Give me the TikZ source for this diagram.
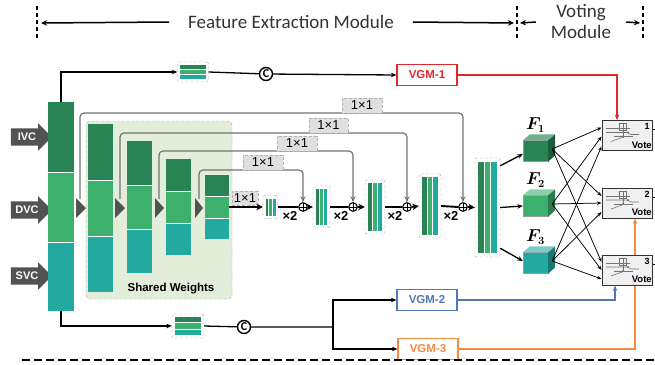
\documentclass[tikz,border=0pt]{standalone}
\usepackage{fontspec}
\setmainfont{Carlito}
\newfontfamily\arialfont{Liberation Sans}
\usepackage{amsmath}
\usetikzlibrary{positioning,arrows.meta,shapes.arrows}

\definecolor{dgreen}{RGB}{40,132,84}
\definecolor{mgreen}{RGB}{62,176,110}
\definecolor{tealc}{RGB}{34,170,160}
\definecolor{swbg}{RGB}{226,238,218}
\definecolor{arrowgray}{RGB}{82,82,82}
\definecolor{vgmred}{RGB}{222,40,44}
\definecolor{vgmblue}{RGB}{80,120,185}
\definecolor{vgmorange}{RGB}{240,140,70}

% three vertical stripes inside a feature block
\newcommand\vstripes[4]{%
  \pgfmathsetmacro\sw{(#3-#1)/3}
  \fill[dgreen] (#1,#2) rectangle ({#1+\sw-0.6},#4);
  \fill[mgreen] ({#1+\sw+0.3},#2) rectangle ({#1+2*\sw-0.3},#4);
  \fill[tealc] ({#1+2*\sw+0.6},#2) rectangle (#3,#4);}
% three horizontal stripes inside a pooled box
\newcommand\hstripes[4]{%
  \pgfmathsetmacro\sh{(#4-#2)/3}
  \fill[dgreen] (#1,#2) rectangle (#3,{#2+\sh-0.6});
  \fill[mgreen] (#1,{#2+\sh+0.3}) rectangle (#3,{#2+2*\sh-0.3});
  \fill[tealc] (#1,{#2+2*\sh+0.6}) rectangle (#3,#4);}
% little circuit sketch inside a vote box
\newcommand\voteicon[2]{%
  \begin{scope}[shift={(#1.center)}, black!55, line width=.6pt]
    \draw (-8,-12) rectangle (-1,-5);
    \draw (-21,-7) -- (3,-7);
    \draw (-21,-3) -- (0,-3) -- (4,-1) -- (12,-1);
    \draw (-13,1) -- (6,1);
    \draw (-4,-12) -- (-4,2);
    \draw (-16,6) -- (-5,2);
    \fill (-4,1) circle (1.2) (1,-3) circle (1.2);
    \node[votenum] (#1num) at (20,-9) {#2};
    \node[votetxt, anchor=east] (#1txt) at (25,9.5) {Vote};
  \end{scope}}

\tikzset{
  headtxt/.style={font=\fontsize{19}{21}\selectfont, text=black!80, inner sep=1pt},
  headarr/.style={line width=1.5pt, -{Stealth[length=6pt,width=5.5pt]}},
  tick/.style={line width=1.5pt, dash pattern=on 4pt off 3pt},
  inarrow/.style={single arrow, fill=arrowgray, text=white,
    font=\arialfont\bfseries\fontsize{11}{12}\selectfont,
    single arrow head extend=5pt, minimum height=41pt, inner xsep=1pt, inner ysep=4.5pt},
  hold/.style={inner sep=0pt, minimum width=#1},
  featbox/.style={draw=gray!70, densely dashed, fill=white, rounded corners=2pt, inner sep=0pt},
  lab/.style={draw=gray!60, densely dashed, fill=gray!25, inner sep=1pt,
    minimum width=40pt, minimum height=15pt, font=\arialfont\fontsize{13}{14}\selectfont},
  skip/.style={draw=black!55, line width=1.2pt, rounded corners=4pt,
    -{Stealth[length=6pt,width=5pt]}},
  flow/.style={line width=1.9pt, -{Stealth[length=6.5pt,width=6.5pt]}},
  flowl/.style={line width=1.9pt},
  oplus/.style={circle, draw, line width=.9pt, fill=white, minimum size=8.5pt, inner sep=0pt,
    path picture={\draw[line width=.9pt] (path picture bounding box.north) -- (path picture bounding box.south)
      (path picture bounding box.west) -- (path picture bounding box.east);}},
  times/.style={font=\arialfont\bfseries\fontsize{13}{14}\selectfont, inner sep=0pt},
  cat/.style={circle, draw, line width=1.4pt, fill=white, minimum size=13pt, inner sep=0pt,
    font=\bfseries\fontsize{12}{12}\selectfont},
  conn/.style={line width=1.3pt, -{Stealth[length=5.5pt,width=4.5pt]}},
  vgm/.style={draw=#1, line width=1.2pt, fill=white, text=#1, minimum width=60pt,
    minimum height=21pt, font=\arialfont\bfseries\fontsize{11.5}{12}\selectfont},
  cube/.style={fill=#1, draw=black!40, line width=.3pt, minimum width=25pt,
    minimum height=21pt, inner sep=0pt},
  flabel/.style={font=\fontsize{16}{18}\selectfont\boldmath, inner sep=0pt},
  vote/.style={draw=black!80, line width=1pt, fill=gray!12, minimum width=50pt,
    minimum height=30pt, inner sep=0pt},
  votenum/.style={font=\arialfont\bfseries\fontsize{9}{10}\selectfont, inner sep=0pt, text=black},
  votetxt/.style={font=\arialfont\bfseries\fontsize{9.5}{10}\selectfont, inner sep=0pt, text=black},
  fanout/.style={line width=.75pt, -{Stealth[length=4.5pt,width=3.5pt]}},
  colline/.style={draw=#1, line width=1.2pt, -{Stealth[length=5.5pt,width=4.5pt]}}
}

\begin{document}
\begin{tikzpicture}[x=1pt, y=-1pt]
  \useasboundingbox (0,0) rectangle (655,364);

  % header
  \coordinate (tkA) at (37,23);
  \coordinate (tkB) at (517,23);
  \coordinate (tkC) at (643,23);
  \draw[tick] (37,6) -- (37,38) (517,6) -- (517,38) (643,6) -- (643,38);
  \node[headtxt] (fem) at (291,22) {Feature Extraction Module};
  \node[headtxt, align=center] (vm) at (581,22) {Voting\\Module};
  \draw[headarr] ([xshift=-18pt]fem.west) -- ([xshift=4pt]tkA);
  \draw[headarr] ([xshift=18pt]fem.east) -- ([xshift=-3pt]tkB);
  \draw[headarr] ([xshift=-14pt]vm.west) -- ([xshift=3pt]tkB);
  \draw[headarr] ([xshift=14pt]vm.east) -- ([xshift=-3pt]tkC);

  % inputs
  \node[inarrow] (ivc) at (27,137) {IVC};
  \node[inarrow] (dvc) at (27,210) {DVC};
  \node[inarrow] (svc) at (27,276) {SVC};

  % input stack
  \fill[dgreen] (48,102) rectangle (74,172);
  \fill[mgreen] (48,172) rectangle (74,242);
  \fill[tealc] (48,242) rectangle (74,311);
  \draw[white, line width=.8pt] (48,172) -- (74,172) (48,242) -- (74,242);
  \node[hold=26pt, minimum height=209pt] (incol) at (61,206.5) {};

  % shared weights
  \draw[draw=gray!70, densely dashed, fill=swbg, rounded corners=4pt] (86,121) rectangle (232,299);
  \node[font=\arialfont\bfseries\fontsize{11.5}{12}\selectfont] (swt) at (171,289) {Shared Weights};

  \fill[dgreen] (88,124) rectangle (113,180);
  \fill[mgreen] (88,180) rectangle (113,236);
  \fill[tealc] (88,236) rectangle (113,292);
  \fill[dgreen] (127,141) rectangle (152,185);
  \fill[mgreen] (127,185) rectangle (152,229);
  \fill[tealc] (127,229) rectangle (152,273);
  \fill[dgreen] (166,159) rectangle (191,191);
  \fill[mgreen] (166,191) rectangle (191,223);
  \fill[tealc] (166,223) rectangle (191,255);
  \fill[dgreen] (205,175) rectangle (229,196);
  \fill[mgreen] (205,196) rectangle (229,218);
  \fill[tealc] (205,218) rectangle (229,239);
  \draw[white, line width=.8pt] (88,180) -- (113,180) (88,236) -- (113,236)
    (127,185) -- (152,185) (127,229) -- (152,229)
    (166,191) -- (191,191) (166,223) -- (191,223)
    (205,196) -- (229,196) (205,218) -- (229,218);
  \node[hold=24pt, minimum height=64pt] (col4) at (217,207) {};

  \fill[arrowgray] (76,198) -- (86,208) -- (76,218) -- cycle;
  \fill[arrowgray] (115,198) -- (125,208) -- (115,218) -- cycle;
  \fill[arrowgray] (155,198) -- (164,208) -- (155,218) -- cycle;
  \fill[arrowgray] (195,198) -- (203,208) -- (195,218) -- cycle;
  \coordinate (s0) at (80,199);
  \coordinate (s1) at (120,199);
  \coordinate (s2) at (159,199);
  \coordinate (s3) at (199,199);

  % pyramid path
  \node[featbox, minimum width=15pt, minimum height=23pt] (b1) at (270.5,207) {};
  \node[featbox, minimum width=17pt, minimum height=42pt] (b2) at (321.5,207) {};
  \node[featbox, minimum width=20pt, minimum height=54pt] (b3) at (375,207) {};
  \node[featbox, minimum width=22pt, minimum height=64pt] (b4) at (430,206) {};
  \node[featbox, minimum width=25pt, minimum height=99pt] (b5) at (487.5,207.5) {};
  \vstripes{265.5}{198.5}{275.5}{215.5}
  \vstripes{316}{189}{327}{225}
  \vstripes{368}{183}{382}{231}
  \vstripes{422}{177}{438}{235}
  \vstripes{478}{162}{497}{253}

  \node[oplus] (p1) at (303,207) {};
  \node[oplus] (p2) at (353,207) {};
  \node[oplus] (p3) at (407,207) {};
  \node[oplus] (p4) at (463,207) {};

  \node[lab, anchor=south] (k1) at (362,113) {1×1};
  \node[lab, anchor=south, minimum width=39pt] (k2) at (328.5,133) {1×1};
  \node[lab, anchor=south] (k3) at (297,151) {1×1};
  \node[lab, anchor=south] (k4) at (263,170) {1×1};
  \node[lab, anchor=south, minimum width=26pt, minimum height=14pt] (k0) at (245,205) {1×1};

  \draw[skip] (s0) |- (k1.south) -| (p4.north);
  \draw[skip] (s1) |- (k2.south) -| (p3.north);
  \draw[skip] (s2) |- (k3.south) -| (p2.north);
  \draw[skip] (s3) |- (k4.south) -| (p1.north);
  \node[lab, anchor=south] at (k1.south) {1×1};
  \node[lab, anchor=south, minimum width=39pt] at (k2.south) {1×1};
  \node[lab, anchor=south] at (k3.south) {1×1};
  \node[lab, anchor=south] at (k4.south) {1×1};

  \draw[flow] (col4.east) -- (b1.west);
  \draw[flowl] (b1.east) -- (p1.west);
  \draw[flow] (p1.east) -- (b2.west);
  \draw[flowl] (b2.east) -- (p2.west);
  \draw[flow] (p2.east) -- (b3.west);
  \draw[flowl] (b3.east) -- (p3.west);
  \draw[flow] (p3.east) -- (b4.west);
  \draw[flowl] (b4.east) -- (p4.west);
  \draw[flow] (p4.east) -- (b5.west);
  \node[oplus] at (p1) {};
  \node[oplus] at (p2) {};
  \node[oplus] at (p3) {};
  \node[oplus] at (p4) {};
  \node[times] (x1) at (290,216) {×2};
  \node[times] (x2) at (341,216) {×2};
  \node[times] (x3) at (395,216) {×2};
  \node[times] (x4) at (451,216) {×2};

  % global branch, top
  \node[featbox, minimum width=31pt, minimum height=20pt] (mtop) at (193,72) {};
  \hstripes{180}{65}{206}{79}
  \node[cat] (ctop) at (266,74) {C};
  \node[vgm=vgmred] (vgm1) at (427,75) {VGM-1};
  \draw[conn] (incol.north) |- (mtop.west);
  \draw[line width=1.3pt] (mtop.east) -- (ctop);
  \draw[conn] (ctop) -- (vgm1.west);

  % global branch, bottom
  \node[featbox, minimum width=32pt, minimum height=24pt] (mbot) at (188,326) {};
  \hstripes{175}{317}{201}{335}
  \node[cat] (cbot) at (244,327) {C};
  \coordinate (br) at (333,327);
  \node[vgm=vgmblue] (vgm2) at (427,300) {VGM-2};
  \node[vgm=vgmorange] (vgm3) at (428,349) {VGM-3};
  \draw[conn] (incol.south) |- (mbot.west);
  \draw[line width=1.3pt] (mbot.east) -- (cbot) -- (br);
  \draw[conn] (br) |- (vgm2.west);
  \draw[conn] (br) |- (vgm3.west);

  % feature cubes
  \node[cube=dgreen] (f1) at (535.5,151) {};
  \node[cube=mgreen] (f2) at (535.5,206) {};
  \node[cube=tealc] (f3) at (535.5,263) {};
  \fill[dgreen!65!white] (f1.north west) -- ++(7,-6) -- ++(25,0) -- (f1.north east) -- cycle;
  \fill[dgreen!70!black] (f1.north east) -- ++(7,-6) -- ++(0,21) -- (f1.south east) -- cycle;
  \fill[mgreen!60!white] (f2.north west) -- ++(7,-6) -- ++(25,0) -- (f2.north east) -- cycle;
  \fill[mgreen!70!black] (f2.north east) -- ++(7,-6) -- ++(0,21) -- (f2.south east) -- cycle;
  \fill[tealc!60!white] (f3.north west) -- ++(7,-6) -- ++(25,0) -- (f3.north east) -- cycle;
  \fill[tealc!70!black] (f3.north east) -- ++(7,-6) -- ++(0,21) -- (f3.south east) -- cycle;
  \node[flabel, above=8pt of f1] (lf1) {$F_1$};
  \node[flabel, above=8pt of f2] (lf2) {$F_2$};
  \node[flabel, above=8pt of f3] (lf3) {$F_3$};
  \draw[conn] ([yshift=-8pt]b5.north east) -- ([yshift=-3pt]f1.west);
  \draw[conn] (b5.east) -- (f2.west);
  \draw[conn] ([yshift=9pt]b5.south east) -- ([yshift=2pt]f3.west);

  % voting
  \node[vote] (v1) at (627,135.5) {};
  \node[vote] (v2) at (627,203) {};
  \draw[colline=vgmorange] (vgm3.east) -| ([xshift=8pt]v2.south);
  \node[vote] (v3) at (627,270) {};
  \voteicon{v1}{1}
  \voteicon{v2}{2}
  \voteicon{v3}{3}
  \draw[colline=vgmred] (vgm1.east) -| ([xshift=-10pt]v1.north);
  \draw[colline=vgmblue] (vgm2.east) -| ([xshift=-12pt]v3.south);

  \draw[fanout] ([xshift=4pt,yshift=2pt]f1.east) -- ([yshift=8pt]v1.west);
  \draw[fanout] ([xshift=4pt,yshift=2pt]f1.east) -- ([yshift=7pt]v2.west);
  \draw[fanout] ([xshift=4pt,yshift=2pt]f1.east) -- ([yshift=8pt]v3.west);
  \draw[fanout] ([xshift=4pt,yshift=2pt]f2.east) -- ([yshift=-1pt]v1.west);
  \draw[fanout] ([xshift=4pt,yshift=2pt]f2.east) -- ([yshift=0pt]v2.west);
  \draw[fanout] ([xshift=4pt,yshift=2pt]f2.east) -- ([yshift=0pt]v3.west);
  \draw[fanout] ([xshift=4pt,yshift=2pt]f3.east) -- ([yshift=-11pt]v1.west);
  \draw[fanout] ([xshift=4pt,yshift=2pt]f3.east) -- ([yshift=-9pt]v2.west);
  \draw[fanout] ([xshift=4pt,yshift=2pt]f3.east) -- ([yshift=-9pt]v3.west);

  \coordinate (o1) at (655,129);
  \coordinate (o2) at (655,197);
  \coordinate (o3) at (655,264);
  \draw[line width=1pt] (v1.east |- o1) -- (o1);
  \draw[line width=1pt] (v2.east |- o2) -- (o2);
  \draw[line width=1pt] (v3.east |- o3) -- (o3);

  % bottom dashed rule
  \coordinate (dl) at (22,360);
  \coordinate (dr) at (655,360);
  \draw[line width=1.5pt, dash pattern=on 8pt off 4pt] (dl) -- (dr);
\end{tikzpicture}
\end{document}
